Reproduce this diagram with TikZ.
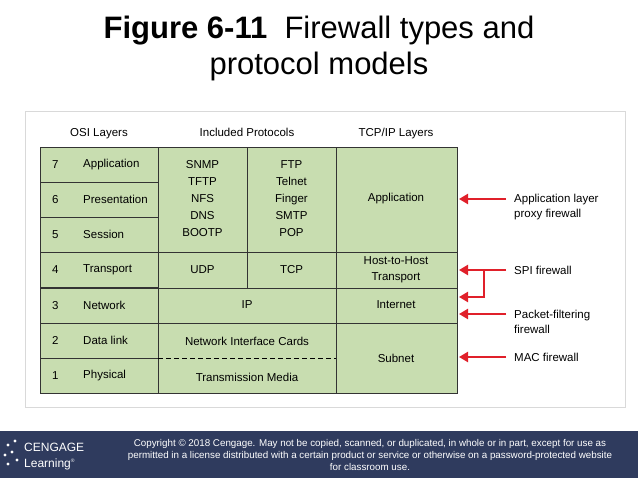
\documentclass[tikz,border=0pt]{standalone}
\usepackage{fontspec}
\setmainfont{Liberation Sans}
\usetikzlibrary{arrows.meta}
\definecolor{cellgreen}{HTML}{C8DDB0}
\definecolor{navy}{HTML}{2F3B5E}
\definecolor{arrred}{HTML}{E0202A}
\begin{document}
\begin{tikzpicture}[x=1pt,y=-1pt,
  cell/.style={draw=black!80,line width=0.9pt,fill=cellgreen},
  txt/.style={font=\fontsize{11.5}{14.5}\selectfont,align=center,inner sep=0pt},
  lbl/.style={font=\fontsize{11.5}{15}\selectfont,align=left,anchor=west,inner sep=0pt},
  fw/.style={draw=arrred,line width=2.2pt,-{Triangle[length=9pt,width=10pt]}}
]
\useasboundingbox (0,0) rectangle (638,478);
\fill[white] (0,0) rectangle (638,478);
% title
\node[font=\fontsize{31}{36}\selectfont,align=center] (title) at (319,48)
  {\textbf{Figure 6-11}\ \ Firewall types and\\protocol models};
% frame
\draw[black!15,line width=1pt] (25,112) rectangle (625,408);
% headers
\node[txt,anchor=base] (h1) at (99,137) {OSI Layers};
\node[txt,anchor=base] (h2) at (247,137) {Included Protocols};
\node[txt,anchor=base] (h3) at (396,137) {TCP/IP Layers};
% OSI column
\foreach \n/\name/\t in {7/Application/147,6/Presentation/182,5/Session/217,4/Transport/252,3/Network/288,2/Data link/323,1/Physical/358}{
  \draw[cell] (40,\t) rectangle (158,\t+35);
  \node[txt,anchor=west] (n\n) at (52,\t+17.5) {\n};
  \node[txt,anchor=west] (o\n) at (83,\t+17.5) {\name};
}
% protocols
\draw[cell] (158,147) rectangle (247,252);
\draw[cell] (247,147) rectangle (336,252);
\node[txt,font=\fontsize{11.5}{17}\selectfont] (p1) at (202.5,199) {SNMP\\TFTP\\NFS\\DNS\\BOOTP};
\node[txt,font=\fontsize{11.5}{17}\selectfont] (p2) at (291.5,199) {FTP\\Telnet\\Finger\\SMTP\\POP};
\draw[cell] (158,252) rectangle (247,288);
\draw[cell] (247,252) rectangle (336,288);
\node[txt] (udp) at (202.5,270) {UDP};
\node[txt] (tcp) at (291.5,270) {TCP};
\draw[cell] (158,288) rectangle (336,323);
\node[txt] (ip) at (247,305) {IP};
\draw[cell] (158,323) rectangle (336,393);
\draw[dashed,line width=0.9pt,dash pattern=on 5pt off 3pt] (158,358) -- (336,358);
\node[txt] (nic) at (247,341) {Network Interface Cards};
\node[txt] (tm) at (247,377) {Transmission Media};
% TCP/IP
\draw[cell] (336,147) rectangle (457,252);
\node[txt] (tapp) at (396,199) {Application};
\draw[cell] (336,252) rectangle (457,288);
\node[txt,font=\fontsize{11.5}{16}\selectfont] (thth) at (396,270) {Host-to-Host\\Transport};
\draw[cell] (336,288) rectangle (457,323);
\node[txt] (tint) at (396,305) {Internet};
\draw[cell] (336,323) rectangle (457,393);
\node[txt] (tsub) at (396,358) {Subnet};
% firewalls
\node[lbl] (f1) at (514,207) {Application layer\\proxy firewall};
\node[lbl] (f2) at (514,270) {SPI firewall};
\node[lbl] (f3) at (514,322) {Packet-filtering\\firewall};
\node[lbl] (f4) at (514,357) {MAC firewall};
\coordinate (a1) at (459,199);
\coordinate (a2) at (459,270);
\coordinate (a2b) at (459,297);
\coordinate (a3) at (459,314);
\coordinate (a4) at (459,357);
\draw[fw] (f1.west |- a1) ++(-8,0) -- (a1);
\draw[fw] (f2.west) ++(-8,0) -- (a2);
\draw[arrred,line width=2.2pt] (484,270) -- (484,298.1);
\draw[fw] (485.1,297) -- (a2b);
\draw[fw] (f3.west |- a3) ++(-8,0) -- (a3);
\draw[fw] (f4.west) ++(-8,0) -- (a4);
% footer
\fill[navy] (0,431) rectangle (638,478);
\foreach \p in {(8,445),(15,441),(5,455),(12,452),(17,460),(8,464)}
  \fill[white] \p circle (1.7);
\node[white,font=\fontsize{12}{12}\selectfont,anchor=west,inner sep=0pt] (cen) at (24,447) {CENGAGE};
\node[white,font=\fontsize{12}{12}\selectfont,anchor=west,inner sep=0pt] (lea) at (24,464) {Learning\textsuperscript{\tiny\textregistered}};
\node[white,font=\fontsize{9.8}{12}\selectfont,align=center,inner sep=0pt] (copy) at (370,455)
  {Copyright \textcopyright{} 2018 Cengage. May not be copied, scanned, or duplicated, in whole or in part, except for use as\\
   permitted in a license distributed with a certain product or service or otherwise on a password-protected website\\
   for classroom use.};
\end{tikzpicture}
\end{document}
